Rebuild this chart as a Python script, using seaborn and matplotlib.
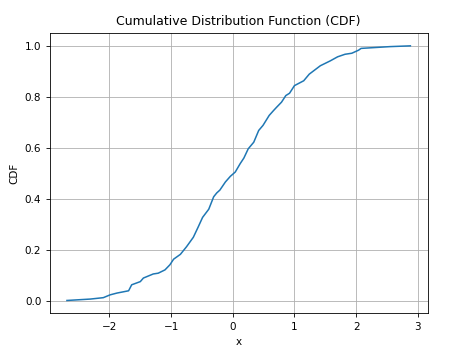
import numpy as np
import matplotlib
matplotlib.use("Agg")
import matplotlib.pyplot as plt
import seaborn as sns
import pandas as pd

# points
x_vals = [-2.69, -2.31, -2.10, -1.99, -1.88, -1.69, -1.64, -1.50, -1.45, -1.29,
          -1.21, -1.10, -1.02, -0.96, -0.85, -0.75, -0.64, -0.56, -0.49, -0.39,
          -0.31, -0.26, -0.21, -0.12, -0.04, 0.04, 0.12, 0.18, 0.25, 0.34,
          0.42, 0.49, 0.59, 0.66, 0.71, 0.79, 0.86, 0.92, 1.00, 1.15,
          1.24, 1.42, 1.58, 1.70, 1.82, 1.93, 2.04, 2.08, 2.28, 2.55, 2.88]
cdf_vals = [0.001, 0.0065, 0.012, 0.023, 0.030, 0.039, 0.0625, 0.075, 0.089, 0.105,
            0.108, 0.121, 0.141, 0.163, 0.182, 0.212, 0.249, 0.290, 0.327, 0.359,
            0.408, 0.423, 0.434, 0.466, 0.488, 0.505, 0.538, 0.560, 0.596, 0.622,
            0.668, 0.688, 0.727, 0.746, 0.759, 0.779, 0.805, 0.814, 0.844, 0.863,
            0.889, 0.922, 0.941, 0.957, 0.967, 0.971, 0.983, 0.990, 0.993, 0.997, 1.0]

df = pd.DataFrame({"x": x_vals, "CDF": cdf_vals})

fig, ax = plt.subplots(figsize=(4.74, 3.6), dpi=100)
sns.lineplot(data=df, x="x", y="CDF", ax=ax, color="#1f77b4", linewidth=1.1)

ax.set_title("Cumulative Distribution Function (CDF)", fontsize=9)
ax.set_xlabel("x", fontsize=7.5)
ax.set_ylabel("CDF", fontsize=7.5)
ax.tick_params(labelsize=7.5, width=0.6, length=2.6)
ax.grid(True, color="#b0b0b0", linewidth=0.6)
for s in ax.spines.values():
    s.set_linewidth(0.6)

plt.subplots_adjust(left=0.105, right=0.902, top=0.908, bottom=0.13)
plt.savefig("out.png")
